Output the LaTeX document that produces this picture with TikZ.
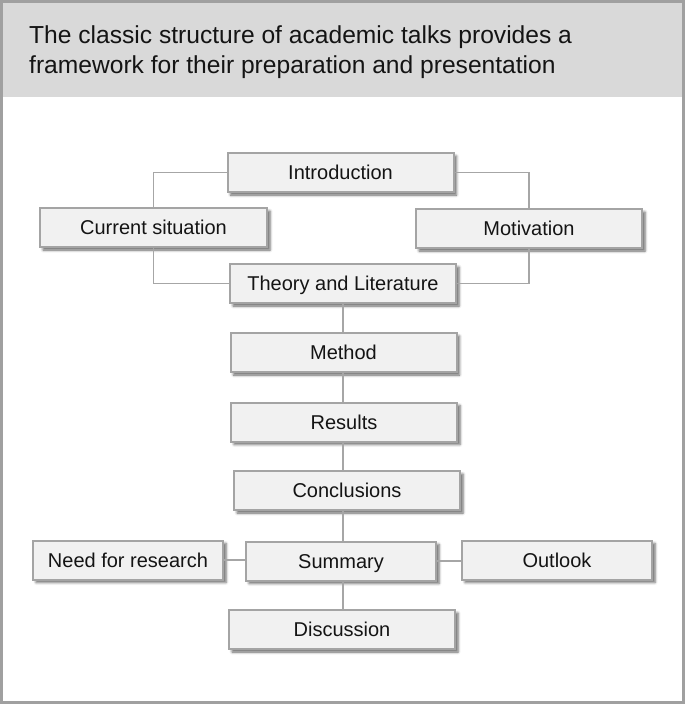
\documentclass[tikz,border=0pt]{standalone}
\usepackage{fontspec}
\setmainfont{Liberation Sans}
\usetikzlibrary{shadows.blur}
\definecolor{headgray}{HTML}{D9D9D9}
\definecolor{framegray}{HTML}{A0A0A0}
\definecolor{boxfill}{HTML}{F1F1F1}
\definecolor{boxline}{HTML}{A4A4A4}
\definecolor{linkgray}{HTML}{A6A6A6}
\definecolor{txt}{HTML}{141414}
\tikzset{
  stagebox/.style={draw=boxline, line width=2pt, fill=boxfill, text=txt,
    minimum height=39pt, inner sep=0pt, text height=14.3pt, text depth=0pt,
    font=\fontsize{20}{24}\selectfont,
    blur shadow={shadow xshift=3pt, shadow yshift=-3pt, shadow blur radius=2.5pt, shadow opacity=60}},
  widebox/.style={stagebox, minimum width=226pt},
  narrowbox/.style={stagebox, minimum width=190pt},
  link/.style={draw=linkgray, line width=1.5pt},
  titletext/.style={anchor=base west, inner sep=0pt, text=txt, font=\fontsize{24.6}{30}\selectfont}
}
\begin{document}
\begin{tikzpicture}[x=1pt, y=-1pt]
\useasboundingbox (0,0) rectangle (685,704);
\fill[headgray] (0,0) rectangle (685,97);
\draw[framegray, line width=3pt] (1.5,1.5) rectangle (683.5,702.5);
\node[titletext] (t1) at (29,43) {The classic structure of academic talks provides a};
\node[titletext] (t2) at (29,73) {framework for their preparation and presentation};

\node[widebox] (intro) at (340.5,172.5) {Introduction};
\node[widebox, minimum width=227pt] (cur) at (153.5,227.5) {Current situation};
\node[widebox] (mot) at (529,228.5) {Motivation};
\node[widebox] (theory) at (343,283.5) {Theory and Literature};
\node[widebox] (method) at (343.5,352.5) {Method};
\node[widebox] (results) at (344,422) {Results};
\node[widebox] (concl) at (347,490.5) {Conclusions};
\node[narrowbox] (summary) at (341,561) {Summary};
\node[narrowbox] (need) at (128,560) {Need for research};
\node[narrowbox] (outlook) at (557,560) {Outlook};
\node[widebox] (disc) at (342,629.5) {Discussion};

\draw[link] (intro.west) -| (cur.north);
\draw[link] (intro.east) -| (mot.north);
\draw[link] (cur.south) |- (theory.west);
\draw[link] (mot.south) |- (theory.east);
\draw[link] (theory.south) -- (theory.south |- method.north);
\draw[link] (theory.south |- method.south) -- (theory.south |- results.north);
\draw[link] (theory.south |- results.south) -- (theory.south |- concl.north);
\draw[link] (theory.south |- concl.south) -- (theory.south |- summary.north);
\draw[link] (theory.south |- summary.south) -- (theory.south |- disc.north);
\draw[link] (need.east) -- (need.east -| summary.west);
\draw[link] (summary.east) -- (summary.east -| outlook.west);
\end{tikzpicture}
\end{document}
